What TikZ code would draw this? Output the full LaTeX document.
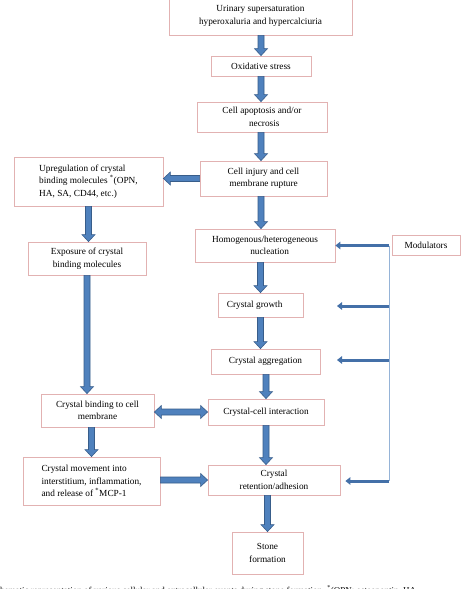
\documentclass[tikz,border=0pt]{standalone}
\usepackage{fontspec}
\setmainfont{Liberation Serif}
\usetikzlibrary{calc,arrows.meta}
\definecolor{arrfill}{RGB}{79,129,189}
\definecolor{arrdraw}{RGB}{56,93,138}
\definecolor{boxline}{RGB}{226,178,178}
\definecolor{modline}{RGB}{149,179,215}
\definecolor{modarr}{RGB}{68,112,168}
\tikzset{
  box/.style={draw=boxline, line width=0.8pt, fill=white, align=center, inner sep=0pt,
    font=\fontsize{9.3}{12.5}\selectfont},
  blk/.style={fill=arrfill, draw=arrdraw, line width=0.6pt, line join=miter,
    to path={
      ($(\tikztostart)!3pt!90:(\tikztotarget)$)
      -- ($(\tikztotarget)!7pt!(\tikztostart)!3pt!90:(\tikztotarget)$)
      -- ($(\tikztotarget)!7pt!(\tikztostart)!6.5pt!90:(\tikztotarget)$)
      -- (\tikztotarget)
      -- ($(\tikztotarget)!7pt!(\tikztostart)!6.5pt!-90:(\tikztotarget)$)
      -- ($(\tikztotarget)!7pt!(\tikztostart)!3pt!-90:(\tikztotarget)$)
      -- ($(\tikztostart)!3pt!-90:(\tikztotarget)$)
      -- cycle}},
  blkboth/.style={fill=arrfill, draw=arrdraw, line width=0.6pt, line join=miter,
    to path={
      (\tikztostart)
      -- ($(\tikztostart)!7pt!(\tikztotarget)!6.5pt!90:(\tikztotarget)$)
      -- ($(\tikztostart)!7pt!(\tikztotarget)!3pt!90:(\tikztotarget)$)
      -- ($(\tikztotarget)!7pt!(\tikztostart)!3pt!90:(\tikztotarget)$)
      -- ($(\tikztotarget)!7pt!(\tikztostart)!6.5pt!90:(\tikztotarget)$)
      -- (\tikztotarget)
      -- ($(\tikztotarget)!7pt!(\tikztostart)!6.5pt!-90:(\tikztotarget)$)
      -- ($(\tikztotarget)!7pt!(\tikztostart)!3pt!-90:(\tikztotarget)$)
      -- ($(\tikztostart)!7pt!(\tikztotarget)!3pt!-90:(\tikztotarget)$)
      -- ($(\tikztostart)!7pt!(\tikztotarget)!6.5pt!-90:(\tikztotarget)$)
      -- cycle}},
  modl/.style={draw=modline, line width=1pt},
  marr/.style={draw=modarr, line width=3pt, -{Triangle[width=7.5pt,length=5pt]}},
}
\begin{document}
\begin{tikzpicture}[x=1pt,y=-1pt]
\useasboundingbox (0,0) rectangle (474,589);
\clip (0,0) rectangle (474,589);
\fill[white] (0,0) rectangle (474,589);

% boxes
\node[box, minimum width=183pt, minimum height=38pt] (b1) at (260.5,16) {Urinary supersaturation\\hyperoxaluria and hypercalciuria};
\node[box, minimum width=100pt, minimum height=20pt] (b2) at (261,66) {Oxidative stress};
\node[box, minimum width=130pt, minimum height=30pt] (b3) at (262,117) {Cell apoptosis and/or\\\ \ necrosis};
\node[box, minimum width=127pt, minimum height=35pt] (b4) at (263.5,178.5) {Cell injury and cell\\membrane rupture};
\node[box, minimum width=149pt, minimum height=49pt, align=left] (b5) at (88.5,181.5) {Upregulation of crystal\\binding molecules \textsuperscript{*}(OPN,\\HA, SA, CD44, etc.)};
\node[box, minimum width=118pt, minimum height=33pt] (b6) at (87,258.5) {Exposure of crystal\\binding molecules};
\node[box, minimum width=140pt, minimum height=33pt] (b7) at (265,245.5) {Homogenous/heterogeneous\\\ \ \ \ nucleation};
\node[box, minimum width=68pt, minimum height=20pt] (mod) at (426,245.5) {Modulators};
\node[box, minimum width=85pt, minimum height=24pt] (b8) at (260.5,305) {Crystal growth\ \ \ \ \ };
\node[box, minimum width=109pt, minimum height=25pt] (b9) at (265.5,361.5) {Crystal aggregation};
\node[box, minimum width=113pt, minimum height=33pt] (b10) at (97.5,410.5) {Crystal binding to cell\\membrane};
\node[box, minimum width=116pt, minimum height=26pt] (b11) at (266,412) {Crystal-cell interaction};
\node[box, minimum width=137pt, minimum height=48pt, align=left] (b12) at (91.5,481) {Crystal movement into\\interstitium, inflammation,\\and release of \textsuperscript{*}MCP-1};
\node[box, minimum width=132pt, minimum height=30pt] (b13) at (274,480) {Crystal\\retention/adhesion};
\node[box, minimum width=71pt, minimum height=42pt] (b14) at (267.5,553) {Stone\\formation};

% main block arrows
\path[blk] (b1.south -| b2.north) to (b2.north);
\path[blk] (b2.south) to (b2.south |- b3.north);
\path[blk] (b3.south -| b2.south) to (b2.south |- b4.north);
\path[blk] (b4.west -| b4.west) to (b4.west -| b5.east);
\path[blk] (b5.south) to (b5.south |- b6.north);
\path[blk] (b6.south) to (b6.south |- b10.north);
\path[blk] (b4.south -| b2.south) to (b2.south |- b7.north);
\path[blk] (b7.south -| b8.north) to (b8.north);
\path[blk] (b8.south) to (b8.south |- b9.north);
\path[blk] (b9.south -| b11.north) to (b11.north);
\path[blkboth] (b10.east |- b11.west) to (b11.west);
\path[blk] (b10.south -| b12.north) to (b12.north);
\path[blk] (b12.east |- b13.west) to (b13.west);
\path[blk] (b11.south) to (b11.south |- b13.north);
\path[blk] (b13.south -| b14.north) to (b14.north);

% modulators
\coordinate (mx) at (389,245.5);
\coordinate (my) at (389,481);
\coordinate (t2) at (337,306);
\coordinate (t3) at (337,360);
\draw[modl] (mx) -- (my);
\draw[marr] (mx) -- (b7.east);
\draw[marr] (mx |- t2) -- (t2);
\draw[marr] (mx |- t3) -- (t3);
\draw[marr, shorten >=5pt] (my) -- (my -| b13.east);

% caption (cut off at the bottom edge, as in the reference)
\node[anchor=base west, inner sep=0pt, font=\fontsize{9}{11}\selectfont] (cap) at (0,593)
  {hematic representation of various cellular and extracellular events during stone formation. \textsuperscript{*}(OPN: osteopontin, HA};
\end{tikzpicture}
\end{document}
